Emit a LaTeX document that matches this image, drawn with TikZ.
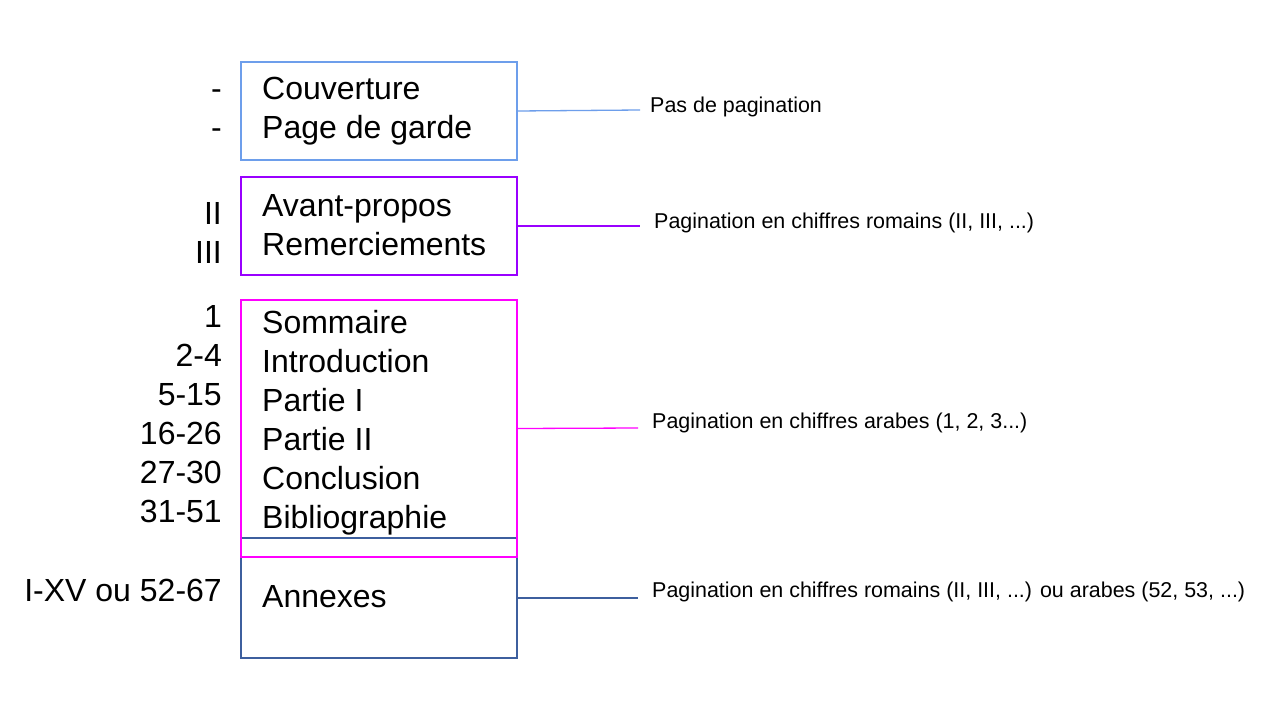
\documentclass[tikz,border=0pt]{standalone}
\usepackage{fontspec}
\setmainfont{Liberation Sans}
\definecolor{cblue}{HTML}{6D9EEB}
\definecolor{cpurple}{HTML}{9900FF}
\definecolor{cmagenta}{HTML}{FF00FF}
\definecolor{cnavy}{HTML}{3D5F9E}
\tikzset{
  x=1pt,y=-1pt,
  boxshape/.style={draw, rectangle, line width=1.3pt, inner sep=0pt, outer sep=0pt, anchor=north west},
  big/.style={font=\fontsize{32}{39}\selectfont, inner sep=0pt},
  itemtxt/.style={big, anchor=base west},
  numtxt/.style={big, anchor=base east},
  lbl/.style={font=\fontsize{21.45}{26}\selectfont, inner sep=0pt, anchor=base west},
  conn/.style={line width=1.3pt}
}
\begin{document}
\begin{tikzpicture}
\useasboundingbox[fill=white] (0,0) rectangle (1284,707);
% boxes
\node[boxshape, draw=cblue, minimum width=276pt, minimum height=98pt] (b1) at (241,62) {};
\node[boxshape, draw=cpurple, minimum width=276pt, minimum height=98pt] (b2) at (241,177) {};
\node[boxshape, draw=cnavy, minimum width=276pt, minimum height=120pt] (b4) at (241,538) {};
\node[boxshape, draw=cmagenta, minimum width=276pt, minimum height=257pt] (b3) at (241,300) {};
% box texts
\node[itemtxt] (t1) at (262,99) {Couverture};
\node[itemtxt] (t2) at (262,138) {Page de garde};
\node[itemtxt] (t3) at (262,216) {Avant-propos};
\node[itemtxt] (t4) at (262,255) {Remerciements};
\node[itemtxt] (t5) at (262,333) {Sommaire};
\node[itemtxt] (t6) at (262,372) {Introduction};
\node[itemtxt] (t7) at (262,411) {Partie I};
\node[itemtxt] (t8) at (262,450) {Partie II};
\node[itemtxt] (t9) at (262,489) {Conclusion};
\node[itemtxt] (t10) at (262,528) {Bibliographie};
\node[itemtxt] (t11) at (262,607) {Annexes};
% numbers
\node[numtxt] (n1) at (222,99) {-};
\node[numtxt] (n2) at (222,138) {-};
\node[numtxt] (n3) at (222,224) {II};
\node[numtxt] (n4) at (222,263) {III};
\node[numtxt] (n5) at (222,327) {1};
\node[numtxt] (n6) at (222,366) {2-4};
\node[numtxt] (n7) at (222,405) {5-15};
\node[numtxt] (n8) at (222,444) {16-26};
\node[numtxt] (n9) at (222,483) {27-30};
\node[numtxt] (n10) at (222,522) {31-51};
\node[numtxt] (n11) at (222,601) {I-XV ou 52-67};
% labels
\node[lbl] (l1) at (650,112) {Pas de pagination};
\node[lbl] (l2) at (654,228) {Pagination en chiffres romains (II, III, ...)};
\node[lbl] (l3) at (652,428) {Pagination en chiffres arabes (1, 2, 3...)};
\node[lbl] (l4) at (652,597) {Pagination en chiffres romains (II, III, ...) ou arabes (52, 53, ...)};
% connector ends
\coordinate (e1) at (640,110);
\coordinate (e2) at (640,226);
\coordinate (e3) at (638,428);
\coordinate (e4) at (638,598);
\draw[conn, cblue] (b1.east) -- (e1);
\draw[conn, cpurple] (b2.east) -- (e2);
\draw[conn, cmagenta] (b3.east) -- (e3);
\draw[conn, cnavy] (b4.east) -- (e4);
\end{tikzpicture}
\end{document}
